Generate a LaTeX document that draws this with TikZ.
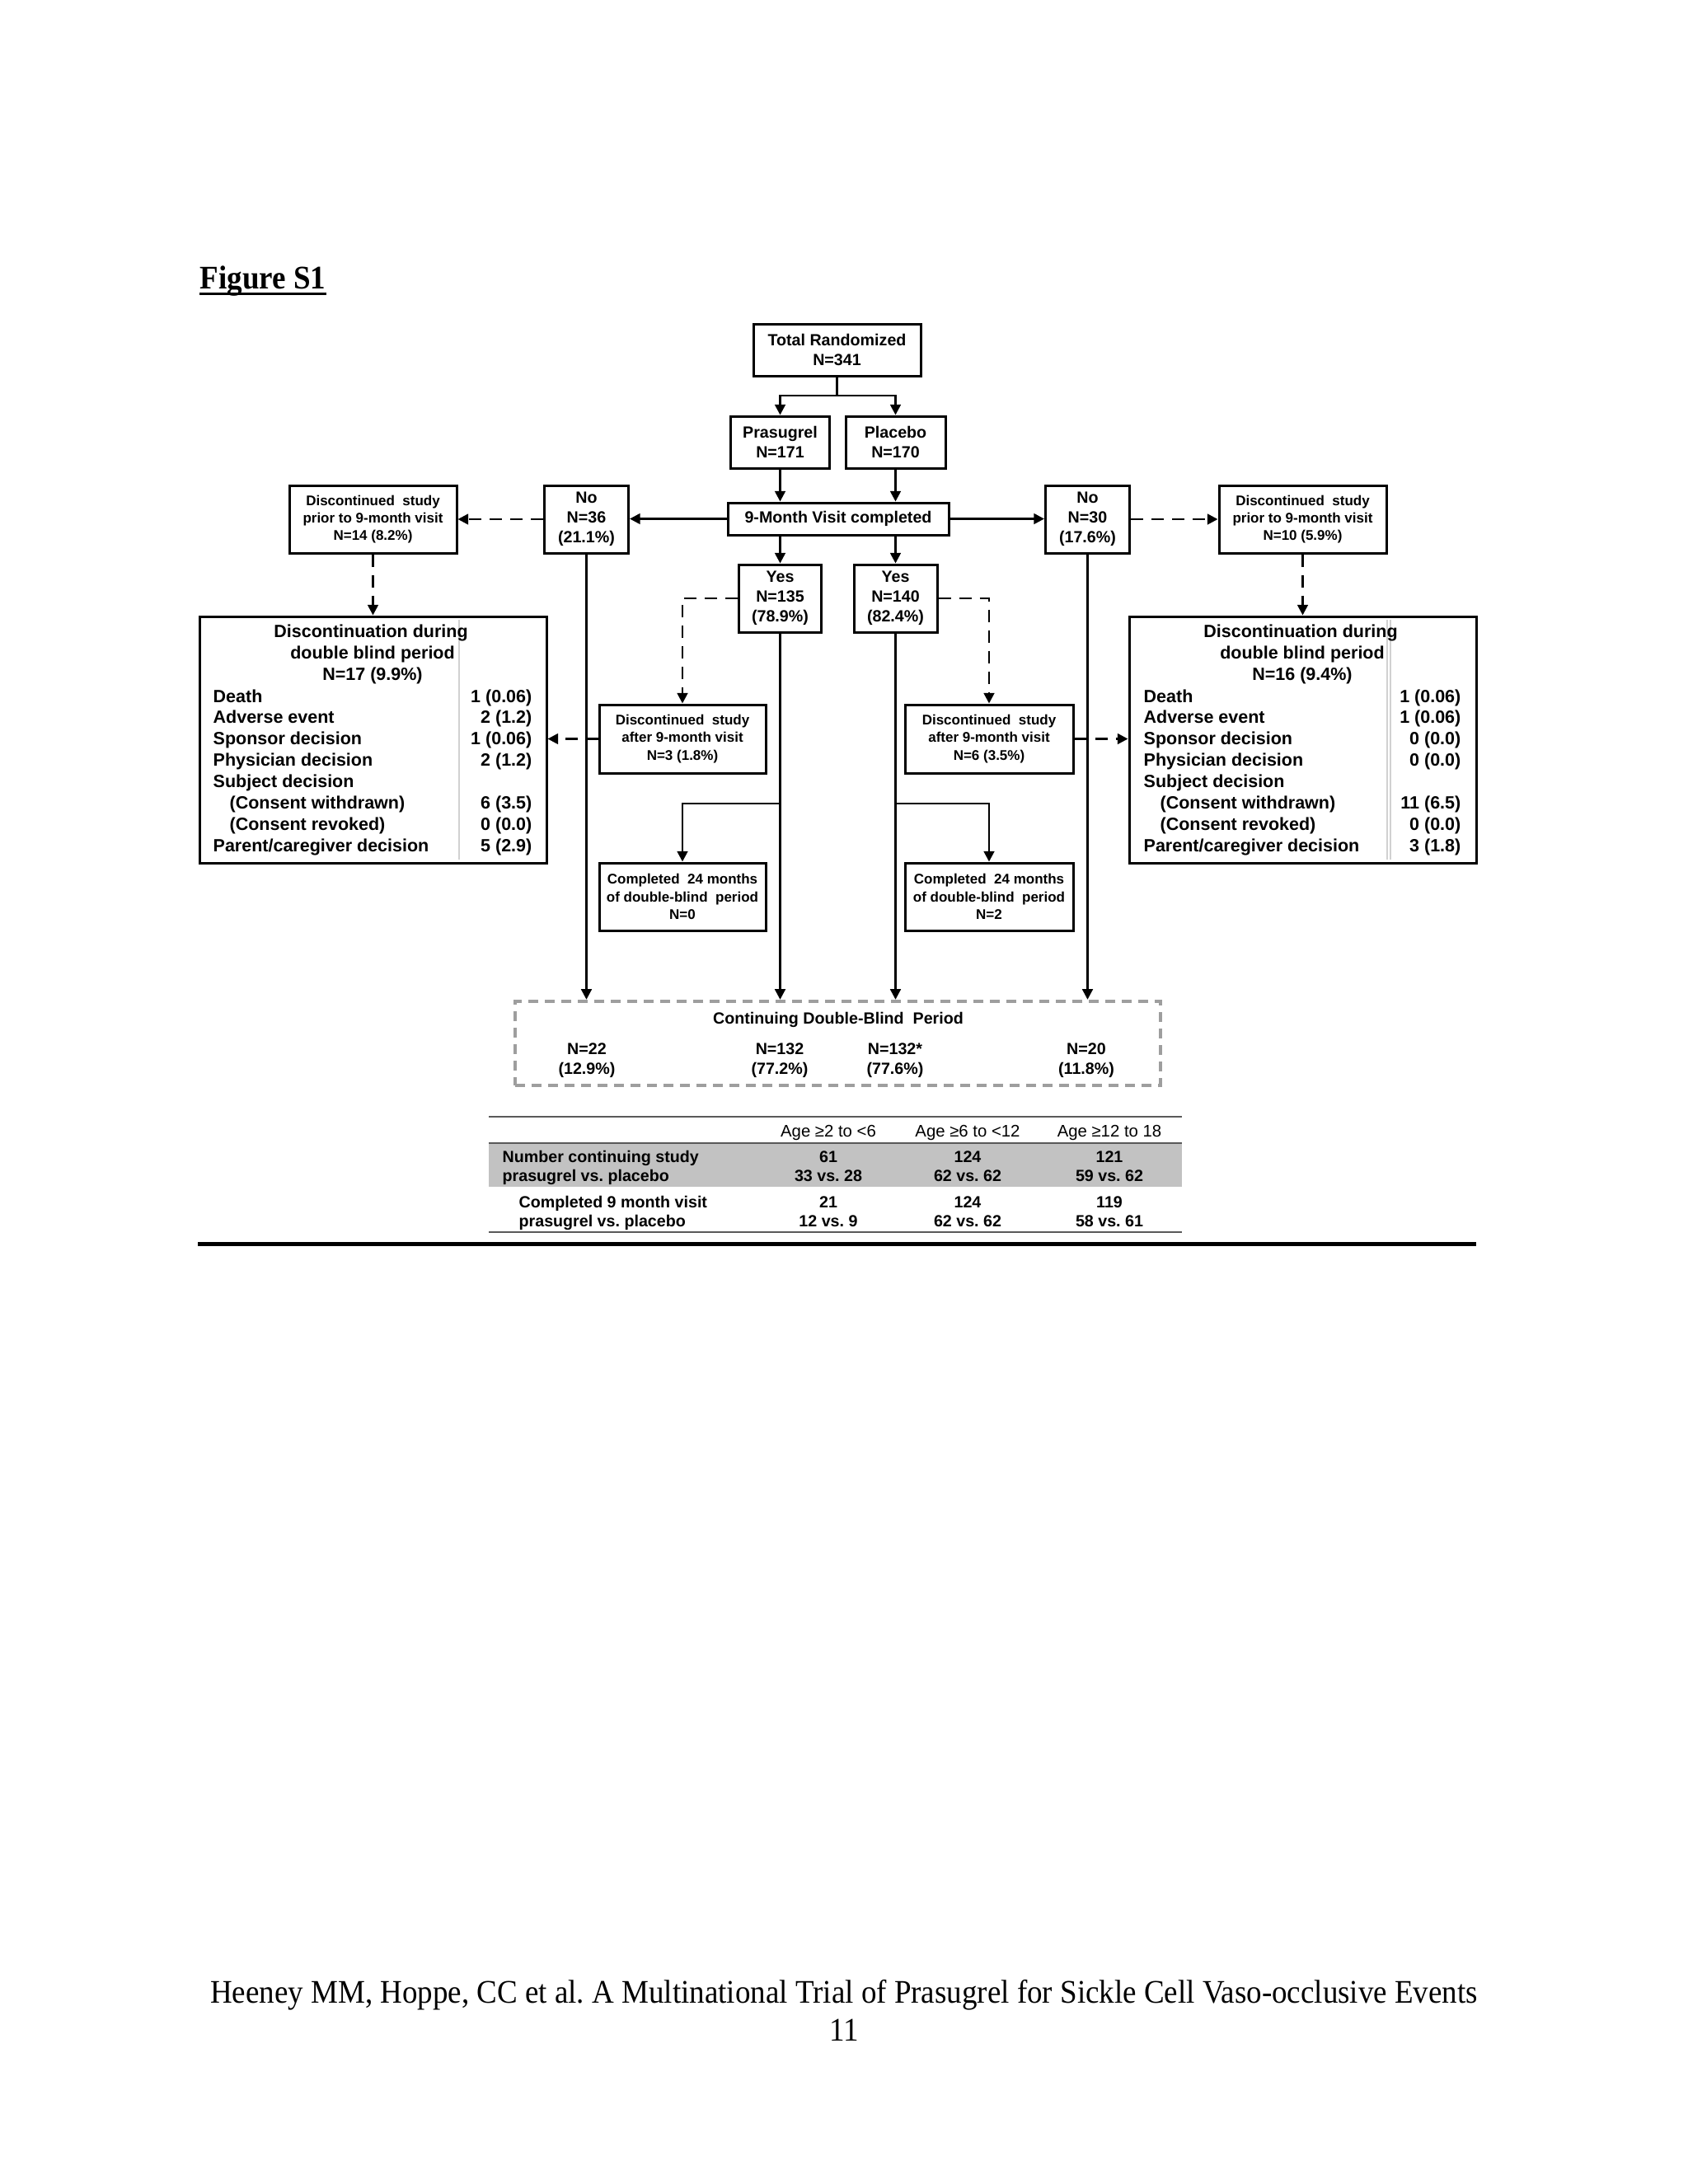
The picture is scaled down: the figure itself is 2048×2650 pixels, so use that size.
\documentclass[tikz,border=0pt]{standalone}
\usepackage{fontspec}
\setmainfont{Liberation Serif}[FakeStretch=0.925]
\newfontfamily\arialf{Liberation Sans}
\usetikzlibrary{arrows.meta}
\frenchspacing
\newcommand\fmain{\arialf\bfseries\fontsize{5.9}{7.2}\selectfont}
\newcommand\fsmall{\arialf\bfseries\fontsize{5.1}{6.4}\selectfont}
\newcommand\fbig{\arialf\bfseries\fontsize{6.45}{7.8}\selectfont}
\newcommand\ftab{\arialf\bfseries\fontsize{5.9}{7}\selectfont}
\newcommand\ftabh{\arialf\fontsize{6.1}{7}\selectfont}
\definecolor{tabgray}{gray}{0.76}
\definecolor{rulegray}{gray}{0.35}
\definecolor{contgray}{gray}{0.62}
\tikzset{
 wh/.style 2 args={minimum width={#1*0.3pt},minimum height={#2*0.3pt}},
 boxbase/.style={draw, line width=0.9pt, inner sep=0pt, align=center},
 mbox/.style={boxbase, font=\fmain},
 sbox/.style={boxbase, font=\fsmall},
 bigbox/.style={draw, line width=0.9pt, inner sep=0pt},
 contbox/.style={draw=contgray, line width=1.3pt, dash pattern=on 3.6pt off 2.4pt, inner sep=0pt},
 arr/.style={line width=0.8pt, -{Triangle[length=3.8pt,width=3.8pt]}},
 dsh/.style={arr, dash pattern=on 4.5pt off 3pt},
 plain/.style={line width=0.8pt},
 sepline/.style={draw=black!18, line width=0.5pt},
 btitle/.style={font=\fbig, inner sep=0pt, anchor=base},
 blab/.style={font=\fbig, inner sep=0pt, anchor=base west},
 bval/.style={font=\fbig, inner sep=0pt, anchor=base east},
 ctext/.style={font=\fmain, inner sep=0pt, align=center},
 thead/.style={font=\ftabh, inner sep=0pt, anchor=base},
 tval/.style={font=\ftab, inner sep=0pt, anchor=base},
 tlab/.style={font=\ftab, inner sep=0pt, anchor=base west},
 trule/.style={draw=rulegray, line width=0.8pt},
}
\begin{document}
\begin{tikzpicture}[x=0.3pt,y=-0.3pt]
\useasboundingbox (0,0) rectangle (2048,2650);
\fill[white] (0,0) rectangle (2048,2650);

% title
\node[anchor=base west, inner sep=0pt, font=\bfseries\fontsize{12}{14}\selectfont] (fig) at (242,350) {Figure S1};
\draw[line width=0.9pt] ([yshift=-1.9pt]fig.base west) -- ([yshift=-1.9pt]fig.base east);

% boxes
\node[mbox, wh={203}{63}] (total) at (1015.5,424.5) {Total Randomized\\N=341};
\node[mbox, wh={120}{63}] (pras) at (946.5,536.5) {Prasugrel\\N=171};
\node[mbox, wh={121}{63}] (plac) at (1086.5,536.5) {Placebo\\N=170};
\node[mbox, wh={268}{39}] (nine) at (1017,629.5) {9-Month Visit completed};
\node[mbox, wh={102}{82}] (noL) at (711.5,630) {No\\N=36\\(21.1\%)};
\node[mbox, wh={102}{82}] (noR) at (1319.5,630) {No\\N=30\\(17.6\%)};
\node[sbox, wh={203}{82}] (discPL) at (452.5,630) {Discontinued\ \ study\\prior to 9-month visit\\N=14 (8.2\%)};
\node[sbox, wh={203}{82}] (discPR) at (1580.5,630) {Discontinued\ \ study\\prior to 9-month visit\\N=10 (5.9\%)};
\node[mbox, wh={100}{82}] (yesL) at (946.5,726) {Yes\\N=135\\(78.9\%)};
\node[mbox, wh={101}{82}] (yesR) at (1086.5,726) {Yes\\N=140\\(82.4\%)};
\node[sbox, wh={202}{83}] (discAL) at (828,896.5) {Discontinued\ \ study\\after 9-month visit\\N=3 (1.8\%)};
\node[sbox, wh={204}{83}] (discAR) at (1200,896.5) {Discontinued\ \ study\\after 9-month visit\\N=6 (3.5\%)};
\node[sbox, wh={202}{82}] (compL) at (828,1088) {Completed\ \ 24 months\\of double-blind\ \ period\\N=0};
\node[sbox, wh={204}{82}] (compR) at (1200,1088) {Completed\ \ 24 months\\of double-blind\ \ period\\N=2};
\node[bigbox, wh={421}{299}] (bigL) at (452.5,897.5) {};
\node[bigbox, wh={421}{299}] (bigR) at (1580.5,897.5) {};
\node[contbox, wh={783}{102}] (cont) at (1016.5,1266) {};

% big box left contents
\draw[sepline] (557,752) -- (557,1043);
\node[btitle] (lt1) at (450,773) {Discontinuation during};
\node[btitle] (lt2) at (452,799) {double blind period};
\node[btitle] (lt3) at (452,825) {N=17 (9.9\%)};
\node[blab] (la1) at (258,852) {Death};
\node[blab] (la2) at (258,877) {Adverse event};
\node[blab] (la3) at (258,903) {Sponsor decision};
\node[blab] (la4) at (258,929) {Physician decision};
\node[blab] (la5) at (258,955) {Subject decision};
\node[blab] (la6) at (278,981) {(Consent withdrawn)};
\node[blab] (la7) at (278,1007) {(Consent revoked)};
\node[blab] (la8) at (258,1033) {Parent/caregiver decision};
\node[bval] (lv1) at (646,852) {1 (0.06)};
\node[bval] (lv2) at (646,877) {2 (1.2)};
\node[bval] (lv3) at (646,903) {1 (0.06)};
\node[bval] (lv4) at (646,929) {2 (1.2)};
\node[bval] (lv6) at (646,981) {6 (3.5)};
\node[bval] (lv7) at (646,1007) {0 (0.0)};
\node[bval] (lv8) at (646,1033) {5 (2.9)};

% big box right contents
\draw[sepline] (1683,752) -- (1683,1043);
\draw[sepline] (1687,752) -- (1687,1043);
\node[btitle] (rt1) at (1578,773) {Discontinuation during};
\node[btitle] (rt2) at (1580,799) {double blind period};
\node[btitle] (rt3) at (1580,825) {N=16 (9.4\%)};
\node[blab] (ra1) at (1387,852) {Death};
\node[blab] (ra2) at (1387,877) {Adverse event};
\node[blab] (ra3) at (1387,903) {Sponsor decision};
\node[blab] (ra4) at (1387,929) {Physician decision};
\node[blab] (ra5) at (1387,955) {Subject decision};
\node[blab] (ra6) at (1407,981) {(Consent withdrawn)};
\node[blab] (ra7) at (1407,1007) {(Consent revoked)};
\node[blab] (ra8) at (1387,1033) {Parent/caregiver decision};
\node[bval] (rv1) at (1773,852) {1 (0.06)};
\node[bval] (rv2) at (1773,877) {1 (0.06)};
\node[bval] (rv3) at (1773,903) {0 (0.0)};
\node[bval] (rv4) at (1773,929) {0 (0.0)};
\node[bval] (rv6) at (1773,981) {11 (6.5)};
\node[bval] (rv7) at (1773,1007) {0 (0.0)};
\node[bval] (rv8) at (1773,1033) {3 (1.8)};

% continuing box contents
\node[ctext, anchor=base] (ctitle) at (1017,1242) {Continuing Double-Blind\ \ Period};
\node[ctext] (c1) at (712,1287) {N=22\\(12.9\%)};
\node[ctext] (c2) at (946,1287) {N=132\\(77.2\%)};
\node[ctext] (c3) at (1086,1287) {N=132*\\(77.6\%)};
\node[ctext] (c4) at (1318,1287) {N=20\\(11.8\%)};

% connectors
\coordinate (split) at (1015.5,480);
\draw[plain] (total.south) -- (split);
\draw[arr] (split) -| (pras.north);
\draw[arr] (split) -| (plac.north);
\draw[arr] (pras.south) -- (pras.south |- nine.north);
\draw[arr] (plac.south) -- (plac.south |- nine.north);
\draw[arr] (nine.west) -- (nine.west -| noL.east);
\draw[arr] (nine.east) -- (nine.east -| noR.west);
\draw[dsh] (noL.west) -- (discPL.east);
\draw[dsh] (noR.east) -- (discPR.west);
\draw[dsh] (discPL.south) -- (discPL.south |- bigL.north);
\draw[dsh] (discPR.south) -- (discPR.south |- bigR.north);
\draw[arr] (yesL.north |- nine.south) -- (yesL.north);
\draw[arr] (yesR.north |- nine.south) -- (yesR.north);
\draw[dsh] (yesL.west) -| (discAL.north);
\draw[dsh] (yesR.east) -| (discAR.north);
\draw[dsh] (discAL.west) -- (discAL.west -| bigL.east);
\draw[dsh] (discAR.east) -- (discAR.east -| bigR.west);
\draw[arr] (noL.south) -- (noL.south |- cont.north);
\draw[arr] (noR.south) -- (noR.south |- cont.north);
\draw[arr] (yesL.south) -- (yesL.south |- cont.north);
\draw[arr] (yesR.south) -- (yesR.south |- cont.north);
\coordinate (brL) at (946.5,975);
\coordinate (brR) at (1086.5,975);
\draw[arr] (brL) -| (compL.north);
\draw[arr] (brR) -| (compR.north);

% table
\fill[tabgray] (593,1387) rectangle (1434,1440);
\draw[trule] (593,1355) -- (1434,1355);
\draw[trule] (593,1387) -- (1434,1387);
\draw[trule] (593,1495) -- (1434,1495);
\node[thead] (h1) at (1005,1379) {Age ≥2 to <6};
\node[thead] (h2) at (1174,1379) {Age ≥6 to <12};
\node[thead] (h3) at (1346,1379) {Age ≥12 to 18};
\node[tlab] (r1a) at (609,1410) {Number continuing study};
\node[tlab] (r1b) at (609,1433) {prasugrel vs. placebo};
\node[tval] (r1c1a) at (1005,1410) {61};
\node[tval] (r1c1b) at (1005,1433) {33 vs. 28};
\node[tval] (r1c2a) at (1174,1410) {124};
\node[tval] (r1c2b) at (1174,1433) {62 vs. 62};
\node[tval] (r1c3a) at (1346,1410) {121};
\node[tval] (r1c3b) at (1346,1433) {59 vs. 62};
\node[tlab] (r2a) at (629,1465) {Completed 9 month visit};
\node[tlab] (r2b) at (629,1488) {prasugrel vs. placebo};
\node[tval] (r2c1a) at (1005,1465) {21};
\node[tval] (r2c1b) at (1005,1488) {12 vs. 9};
\node[tval] (r2c2a) at (1174,1465) {124};
\node[tval] (r2c2b) at (1174,1488) {62 vs. 62};
\node[tval] (r2c3a) at (1346,1465) {119};
\node[tval] (r2c3b) at (1346,1488) {58 vs. 61};

\draw[line width=1.5pt] (240,1509) -- (1791,1509);

% footer
\node[anchor=base, inner sep=0pt, font=\fontsize{12}{14}\selectfont] (foot) at (1024,2430) {Heeney MM, Hoppe, CC et al. A Multinational Trial of Prasugrel for Sickle Cell Vaso-occlusive Events};
\node[anchor=base, inner sep=0pt, font=\fontsize{12}{14}\selectfont] (pg) at (1024,2476) {11};
\end{tikzpicture}
\end{document}
